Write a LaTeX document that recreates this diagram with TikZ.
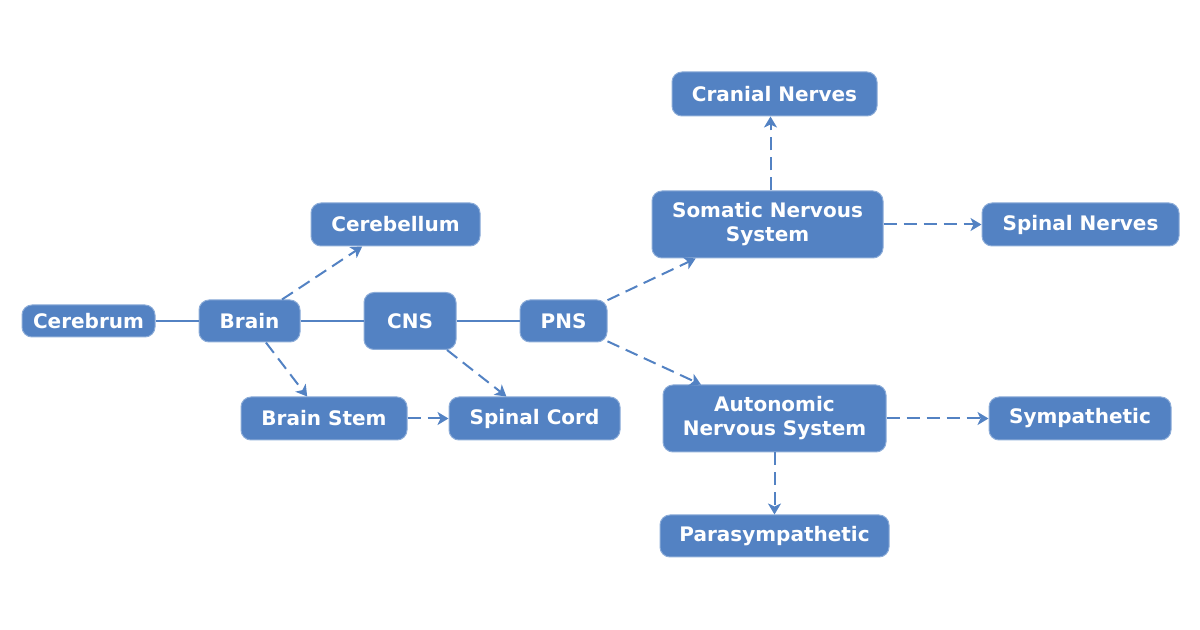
\documentclass[tikz,border=0pt]{standalone}
\usepackage{fontspec}
\setmainfont{DejaVu Sans}
\usetikzlibrary{arrows.meta,positioning}
\definecolor{nerveblue}{RGB}{83,130,195}
\definecolor{nerveedge}{RGB}{140,172,216}

\begin{document}
\begin{tikzpicture}[
  x=0.5pt,y=-0.5pt,on grid,
  box/.style={draw=nerveedge,line width=0.5pt,fill=nerveblue,rounded corners=5pt,align=center,inner sep=0pt,text=white,font=\bfseries\fontsize{10}{12}\selectfont},
  link/.style={nerveblue,line width=1pt},
  ar/.style={nerveblue,line width=1pt,dash pattern=on 6.5pt off 3.5pt,-{Stealth[length=5.5pt,width=6.5pt,inset=1.5pt]}}]

\useasboundingbox (0,0) rectangle (1200,630);

% central chain
\node[box,minimum width=66.5pt,minimum height=16pt] (Cerebrum) at (88.5,321) {Cerebrum};
\node[box,minimum width=50.5pt,minimum height=21pt,right=80.5pt of Cerebrum] (Brain) {Brain};
\node[box,minimum width=46pt,minimum height=28.5pt,right=80.25pt of Brain] (CNS) {CNS};
\node[box,minimum width=43.5pt,minimum height=21pt,right=76.75pt of CNS] (PNS) {PNS};

% brain side
\node[box,minimum width=84.5pt,minimum height=21.5pt,above right=48.25pt and 73pt of Brain] (Cerebellum) {Cerebellum};
\node[box,minimum width=83pt,minimum height=21.5pt,below right=48.75pt and 37.25pt of Brain] (BrainStem) {Brain Stem};
\node[box,minimum width=85.5pt,minimum height=21.5pt,right=105.25pt of BrainStem] (SpinalCord) {Spinal Cord};

% peripheral side
\node[box,minimum width=115.5pt,minimum height=33.5pt,above right=48.25pt and 102pt of PNS] (Somatic) {Somatic Nervous\\System};
\node[box,minimum width=102.5pt,minimum height=22pt,above right=65.25pt and 3.5pt of Somatic] (Cranial) {Cranial Nerves};
\node[box,minimum width=98.5pt,minimum height=21.5pt,right=156.5pt of Somatic] (SpinalNerves) {Spinal Nerves};
\node[box,minimum width=111.5pt,minimum height=33.5pt,below right=48.75pt and 105.5pt of PNS] (Autonomic) {Autonomic\\Nervous System};
\node[box,minimum width=91pt,minimum height=21.5pt,right=152.75pt of Autonomic] (Sympathetic) {Sympathetic};
\node[box,minimum width=114.5pt,minimum height=21pt,below=58.75pt of Autonomic] (Parasympathetic) {Parasympathetic};

% connectors
\draw[link] (Cerebrum) -- (Brain);
\draw[link] (Brain) -- (CNS);
\draw[link] (CNS) -- (PNS);
\draw[ar] (Brain) -- (Cerebellum);
\draw[ar] (Brain) -- (BrainStem);
\draw[ar] (CNS) -- (SpinalCord);
\draw[ar] (BrainStem) -- (SpinalCord);
\draw[ar] (PNS) -- (Somatic);
\draw[ar] (PNS) -- (Autonomic);
\draw[ar] ([xshift=1.5pt]Somatic.north) -- ([xshift=1.5pt]Somatic.north |- Cranial.south);
\draw[ar] (Somatic) -- (SpinalNerves);
\draw[ar] (Autonomic) -- (Sympathetic);
\draw[ar] (Autonomic) -- (Parasympathetic);
\end{tikzpicture}
\end{document}
